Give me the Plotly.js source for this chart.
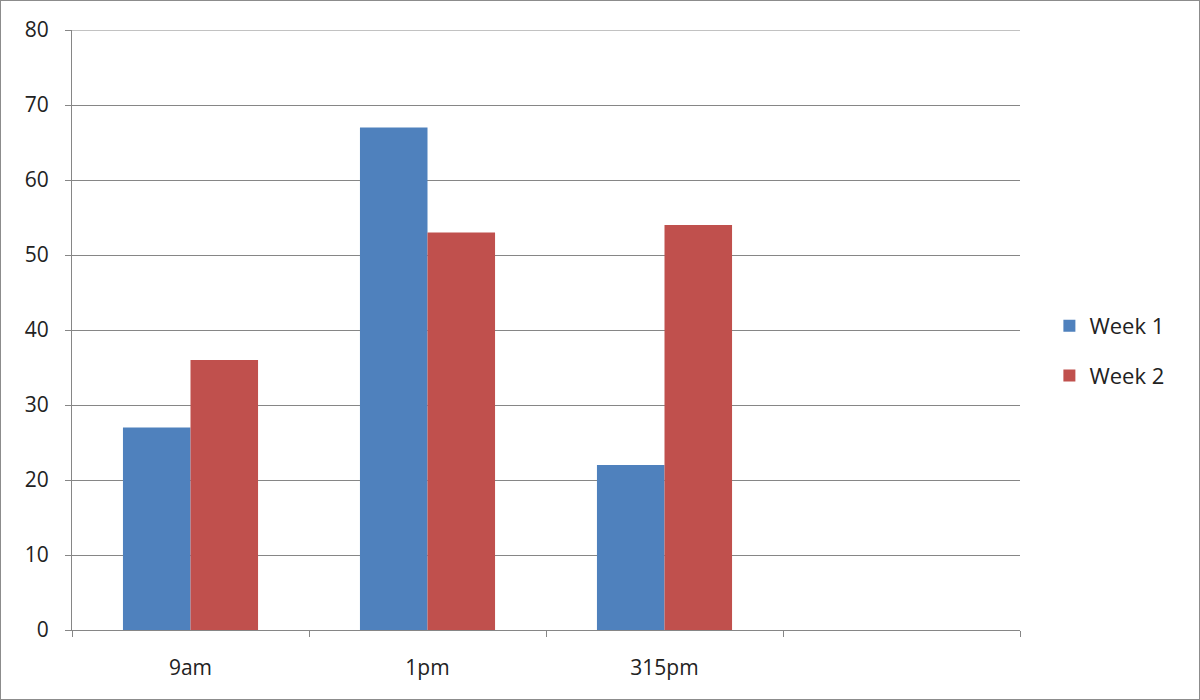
<!DOCTYPE html>
<html>
<head>
<meta charset="utf-8">
<script src="https://cdn.plot.ly/plotly-3.0.1.min.js"></script>
<style>
html,body{margin:0;padding:0;background:#fff;}
#chart{width:1198px;height:698px;border:1px solid #8c8c8c;}
</style>
</head>
<body>
<div id="chart"></div>
<script>
const categories = ["9am", "1pm", "315pm", " "];
const week1 = [27, 67, 22, null];
const week2 = [36, 53, 54, null];
const seriesNames = ["Week 1", "Week 2"];
const yTicks = [0, 10, 20, 30, 40, 50, 60, 70, 80];
const yMax = yTicks[yTicks.length - 1];

const traces = [
  {type: "bar", x: categories, y: week1, name: seriesNames[0], legendgroup: "a",
   marker: {color: "#4F81BD"}},
  {type: "bar", x: categories, y: week2, name: seriesNames[1], legendgroup: "b",
   marker: {color: "#C0504D"}}
];

const layout = {
  width: 1198, height: 698,
  margin: {l: 71, r: 179, t: 29, b: 69},
  paper_bgcolor: "#fff", plot_bgcolor: "#fff",
  font: {family: "Open Sans, DejaVu Sans, sans-serif", size: 21, color: "#222"},
  barmode: "group",
  bargap: 0.43,
  bargroupgap: 0,
  showlegend: true,
  legend: {x: 1.031, y: 0.465, xanchor: "left", yanchor: "middle",
           traceorder: "grouped", tracegroupgap: 18,
           font: {size: 22, color: "#222"}},
  xaxis: {
    type: "category",
    categoryorder: "array", categoryarray: categories,
    range: [-0.5, 3.5],
    tickson: "boundaries",
    ticks: "outside", ticklen: 6, tickcolor: "#868686", tickwidth: 1,
    showline: true, linecolor: "#868686", linewidth: 1,
    showgrid: false, zeroline: false,
    ticklabelstandoff: 19,
    tickfont: {size: 21}
  },
  yaxis: {
    range: [0, yMax],
    tickvals: yTicks,
    ticks: "outside", ticklen: 6, tickcolor: "#868686",
    showline: true, linecolor: "#868686", linewidth: 1,
    showgrid: true, gridcolor: "#868686", gridwidth: 1,
    zeroline: false,
    ticklabelstandoff: 12,
    tickfont: {size: 21}
  },
  shapes: [
    {type: "line", xref: "paper", yref: "y", x0: 0, x1: 1, y0: yMax, y1: yMax,
     line: {color: "#868686", width: 1}, layer: "below"}
  ]
};

Plotly.newPlot("chart", traces, layout, {displayModeBar: false, staticPlot: true});
</script>
</body>
</html>
